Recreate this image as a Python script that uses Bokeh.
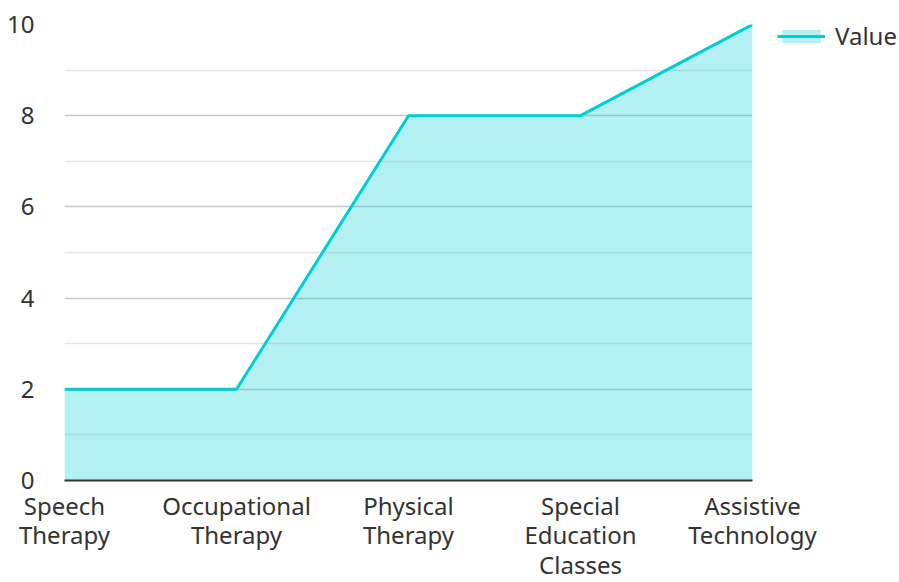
from bokeh.plotting import figure
from bokeh.models import Legend, LegendItem, FixedTicker, Range1d
from bokeh.embed import file_html
from bokeh.resources import INLINE

categories = ["Speech\nTherapy", "Occupational\nTherapy", "Physical\nTherapy",
              "Special\nEducation\nClasses", "Assistive\nTechnology"]
values = [2, 2, 8, 8, 10]
y_ticks = [0, 2, 4, 6, 8, 10]
series_name = "Value"

xs = list(range(len(categories)))
FONT = "Noto Sans"
LINE = "#00CED1"

p = figure(frame_width=688, frame_height=456, output_backend="svg", toolbar_location=None,
           x_range=Range1d(0, len(categories) - 1), y_range=Range1d(0, 10),
           min_border_left=64, min_border_top=24, min_border_bottom=100, min_border_right=0)
p.outline_line_color = None

area = p.varea(x=xs, y1=[0] * len(xs), y2=values, fill_color=LINE, fill_alpha=0.3)
line = p.line(x=xs, y=values, line_color=LINE, line_width=3)

p.xaxis.ticker = FixedTicker(ticks=xs)
p.xaxis.major_label_overrides = {i: c for i, c in enumerate(categories)}
p.xaxis.axis_line_color = "#333333"
p.xaxis.axis_line_width = 2
p.xaxis.major_tick_line_color = None
p.xaxis.minor_tick_line_color = None
p.xaxis.major_label_standoff = 2
p.xaxis.major_label_text_font = FONT
p.xaxis.major_label_text_font_size = "24px"
p.xaxis.major_label_text_color = "#333333"
p.xaxis.major_label_text_line_height = 0.9

p.yaxis.ticker = FixedTicker(ticks=y_ticks, minor_ticks=[1, 3, 5, 7, 9])
p.yaxis.axis_line_color = None
p.yaxis.major_tick_line_color = None
p.yaxis.minor_tick_line_color = None
p.yaxis.major_label_standoff = 24
p.yaxis.major_label_text_font = FONT
p.yaxis.major_label_text_font_size = "24px"
p.yaxis.major_label_text_color = "#333333"

p.xgrid.grid_line_color = None
p.ygrid.grid_line_color = "#c8c8c8"
p.ygrid.grid_line_width = 1.5
p.ygrid.minor_grid_line_color = "#e6e6e6"
p.ygrid.minor_grid_line_width = 1.5

legend = Legend(items=[LegendItem(label=series_name, renderers=[area, line])],
                location="top_left", border_line_color=None, background_fill_alpha=0,
                label_text_font=FONT, label_text_font_size="24px", label_text_color="#333333",
                glyph_width=48, glyph_height=16, padding=0, spacing=0,
                label_standoff=10, margin=0)
legend.location = (25, 428)
p.add_layout(legend, "right")

open("out.html", "w").write(file_html(p, INLINE))
